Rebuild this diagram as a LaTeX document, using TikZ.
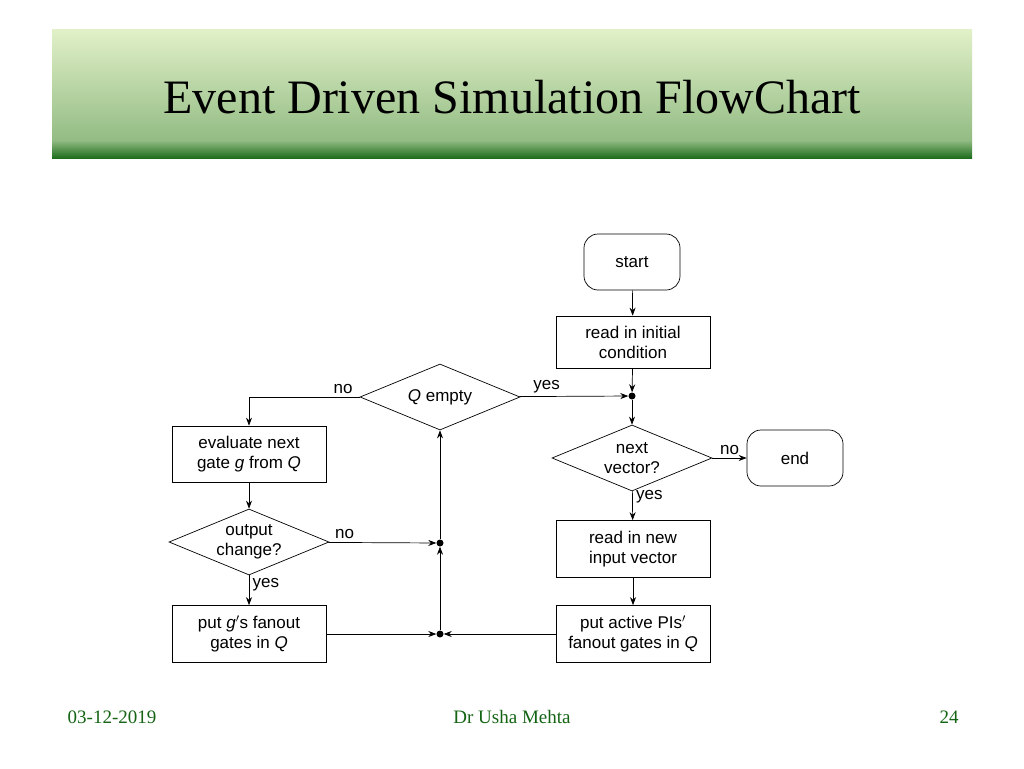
\documentclass[tikz,border=0pt]{standalone}
\usepackage{fontspec}
\setmainfont{Liberation Serif}
\newfontfamily\fsans{Liberation Sans}
\usetikzlibrary{shapes.geometric,arrows.meta}
\definecolor{dg}{RGB}{30,110,30}
\definecolor{lg}{RGB}{225,240,200}
\definecolor{ft}{RGB}{20,100,20}
\begin{document}
\begin{tikzpicture}[x=1pt,y=-1pt,
 box/.style={draw,line width=0.7pt,minimum width=154pt,minimum height=52pt,align=center,font=\fsans\fontsize{17}{20}\selectfont,inner sep=1pt},
 term/.style={box,rounded corners=14pt,minimum width=96pt,minimum height=56pt},
 dia/.style={draw,diamond,aspect=2.45,line width=0.7pt,align=center,font=\fsans\fontsize{17}{20}\selectfont,inner sep=0pt,minimum width=160pt,minimum height=66pt},
 dot/.style={circle,fill,inner sep=0pt,minimum size=7pt},
 ar/.style={-{Stealth[length=8pt,width=6pt]},line width=0.7pt},
 lb/.style={font=\fsans\fontsize{17}{20}\selectfont}]
\useasboundingbox (0,0) rectangle (1024,768);
\fill[white] (0,0) rectangle (1024,768);
\shade[top color=lg,bottom color=lg!60!dg,middle color=lg!80!dg] (52,30) rectangle (972,140);
\shade[top color=lg!60!dg,bottom color=dg] (52,140) rectangle (972,158);
\node[font=\fontsize{48}{56}\selectfont] (title) at (512,97) {Event Driven Simulation FlowChart};
\node[term] (start) at (632,262) {start};
\node[box] (init) at (633,342) {read in initial\\condition};
\node[dot] (d1) at (632,396) {};
\node[dia,minimum width=160pt,minimum height=66pt] (qe) at (440,397) {\textit{Q} empty};
\node[dia] (nv) at (632,458) {next\\vector?};
\node[term] (end) at (795,458) {end};
\node[box,minimum height=57pt] (rn) at (633,549) {read in new\\input vector};
\node[box,minimum height=57pt] (pa) at (633,634) {put active PIs$'$\\fanout gates in \textit{Q}};
\node[box,minimum height=56pt] (ev) at (249,454) {evaluate next\\gate \textit{g} from \textit{Q}};
\node[dia,minimum height=66pt] (oc) at (249,542) {output\\change?};
\node[box,minimum height=57pt] (pg) at (249,634) {put \textit{g}$'$s fanout\\gates in \textit{Q}};
\node[dot] (d2) at (440,543) {};
\node[dot] (d3) at (440,634) {};
\draw[ar] (start) -- (init);
\draw[ar] (init) -- (d1);
\draw[ar] (qe) -- node[lb,above,pos=0.25]{yes} (d1);
\draw[ar] (d1) -- (nv);
\draw[ar] (nv) -- node[lb,above]{no} (end);
\draw[ar] (nv) -- node[lb,right,pos=0.2]{yes} (rn);
\draw[ar] (rn) -- (pa);
\draw[ar] (pa) -- (d3);
\draw[ar] (pg) -- (d3);
\draw[ar] (d3) -- (d2);
\draw[ar] (d2) -- (qe);
\draw[ar] (oc) -- node[lb,above,pos=0.15]{no} (d2);
\draw[ar] (qe.west) -- node[lb,above,pos=0.15]{no} (249,397) -- (ev);
\draw[ar] (ev) -- (oc);
\draw[ar] (oc) -- node[lb,right,pos=0.3]{yes} (pg);
\node[text=ft,font=\fontsize{19}{22}\selectfont] (date) at (112,717) {03-12-2019};
\node[text=ft,font=\fontsize{19}{22}\selectfont] (auth) at (512,717) {Dr Usha Mehta};
\node[text=ft,font=\fontsize{19}{22}\selectfont] (pg24) at (949,717) {24};
\end{tikzpicture}
\end{document}
